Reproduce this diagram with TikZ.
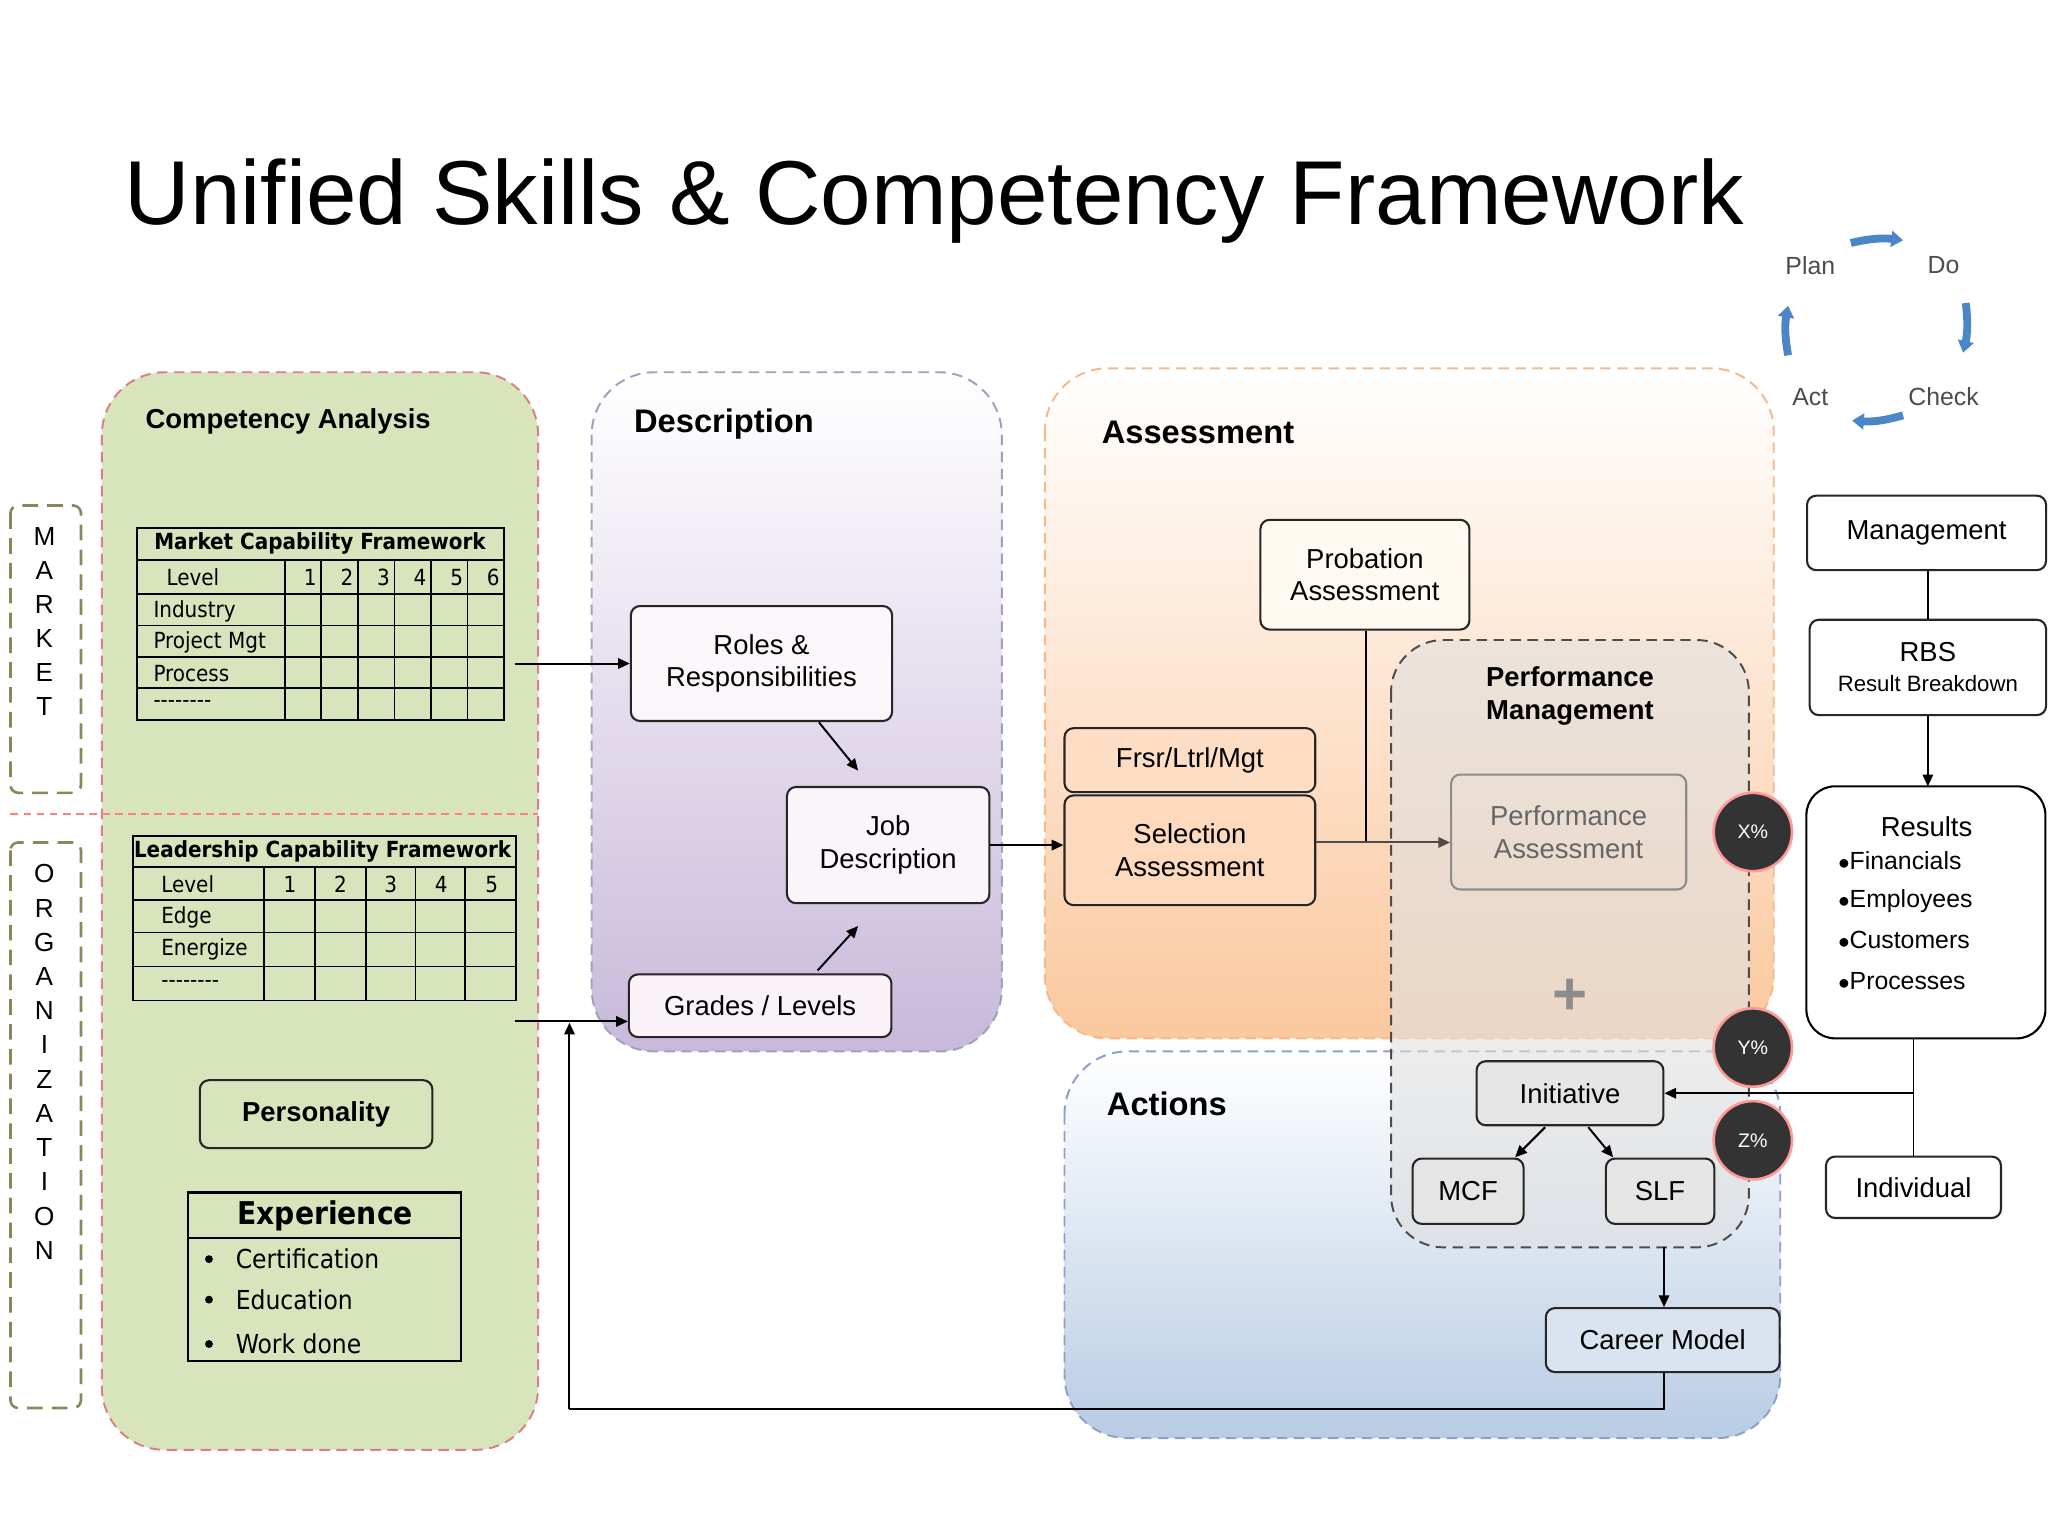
\documentclass[tikz,border=0pt]{standalone}
\usepackage{fontspec}
\setmainfont{Liberation Sans}
\newfontfamily\tabfont{DejaVu Sans Condensed}
\usetikzlibrary{arrows.meta,calc}
\begin{document}
\begin{tikzpicture}[x=1pt,y=-1pt,
  box/.style={draw=black!85,line width=1.6pt,rounded corners=7pt,align=center,font=\fontsize{21}{25}\selectfont,inner sep=2pt},
  panel/.style={line width=1.5pt,rounded corners=48pt,dash pattern=on 8pt off 5pt},
  ptitle/.style={anchor=west,font=\bfseries\fontsize{25}{29}\selectfont},
  arr/.style={-{Triangle[length=9pt,width=8pt]},line width=1.5pt},
  pct/.style={circle,fill=black!80,draw=red!40,line width=2pt,minimum size=60pt,text=white,font=\fontsize{15}{17}\selectfont},
  pdca/.style={-{Triangle[length=9pt,width=12pt]},line width=6pt,color={rgb,255:red,74;green,134;blue,200}},
  tab/.style={font=\tabfont\fontsize{17}{19}\selectfont}]
\useasboundingbox (0,0) rectangle (1568,1176);
\fill[white] (0,0) rectangle (1568,1176);
% title
\node[anchor=base west,font=\fontsize{69.5}{80}\selectfont] (title) at (92,172) {Unified Skills \& Competency Framework};
% PDCA
\node[font=\fontsize{19}{22}\selectfont,text=black!70] (plan) at (1386,203) {Plan};
\node[font=\fontsize{19}{22}\selectfont,text=black!70] (do) at (1488,203) {Do};
\node[font=\fontsize{19}{22}\selectfont,text=black!70] (act) at (1386,304) {Act};
\node[font=\fontsize{19}{22}\selectfont,text=black!70] (check) at (1488,304) {Check};
\draw[pdca] (1417,186) to[bend left=10] (1457,184);
\draw[pdca] (1505,232) to[bend left=10] (1503,270);
\draw[pdca] (1457,318) to[bend left=10] (1418,322);
\draw[pdca] (1369,272) to[bend left=10] (1369,234);
% side brackets
\draw[line width=2pt,color={rgb,255:red,140;green,135;blue,90},rounded corners=6pt,dash pattern=on 12pt off 7pt] (8,387) rectangle (62,607);
\draw[line width=2pt,color={rgb,255:red,140;green,135;blue,90},rounded corners=6pt,dash pattern=on 12pt off 7pt] (8,645) rectangle (62,1078);
\foreach \l [count=\i] in {M,A,R,K,E,T}
  \node[font=\fontsize{20}{22}\selectfont] at (34,411+26*\i-26) {\l};
\foreach \l [count=\i] in {O,R,G,A,N,I,Z,A,T,I,O,N}
  \node[font=\fontsize{20}{22}\selectfont] at (34,669+26.2*\i-26.2) {\l};
% panels
\draw[panel,draw={rgb,255:red,215;green,130;blue,130},fill={rgb,255:red,216;green,228;blue,188}] (78,285) rectangle (412,1110);
\draw[red!50,line width=1.2pt,dash pattern=on 6pt off 4pt] (8,623) -- (412,623);
\draw[panel,draw={rgb,255:red,160;green,160;blue,190},top color=white,bottom color={rgb,255:red,200;green,185;blue,218}] (453,285) rectangle (767,805);
\draw[panel,draw={rgb,255:red,245;green,185;blue,140},top color=white,bottom color={rgb,255:red,251;green,200;blue,158}] (800,282) rectangle (1358,795);
\draw[panel,draw={rgb,255:red,140;green,160;blue,200},top color=white,bottom color={rgb,255:red,184;green,204;blue,228}] (815,805) rectangle (1363,1101);
\fill[rounded corners=40pt,fill=black!12,fill opacity=0.6] (1065,490) rectangle (1339,955);
\draw[panel,rounded corners=40pt,draw=black!70] (1065,490) rectangle (1339,955);
\node[ptitle,font=\bfseries\fontsize{21}{25}\selectfont] (ca) at (108,323) {Competency Analysis};
\node[ptitle] (desc) at (482,325) {Description};
\node[ptitle] (ass) at (840,331) {Assessment};
\node[ptitle] (actions) at (844,845) {Actions};
\node[align=center,font=\bfseries\fontsize{21}{25}\selectfont] (pm) at (1202,533) {Performance\\Management};
% market table
\draw[line width=1.5pt] (105,404) rectangle (386,551);
\foreach \y in {429,455,479,503,527} \draw[line width=1.3pt] (105,\y) -- (386,\y);
\foreach \x in {218,246,274,302,330,358} \draw[line width=1.3pt] (\x,429) -- (\x,551);
\node[tab,font=\tabfont\bfseries\fontsize{17}{19}\selectfont] (mcf) at (245,416) {Market Capability Framework};
\node[tab,anchor=west] at (124,442) {Level};
\foreach \n [count=\i] in {1,...,6} \node[tab,anchor=east] at (218+28*\i,442) {\n};
\node[tab,anchor=west] at (114,468) {Industry};
\node[tab,anchor=west] at (114,492) {Project Mgt};
\node[tab,anchor=west] at (114,516) {Process};
\node[tab,anchor=west] at (114,539) {--------};
\coordinate (mkt) at (394,508);
% leadership table
\draw[line width=1.5pt] (102,640) rectangle (395,766);
\foreach \y in {664,689,714,740} \draw[line width=1.3pt] (102,\y) -- (395,\y);
\foreach \x in {202,241,280,318,356} \draw[line width=1.3pt] (\x,664) -- (\x,766);
\node[tab,font=\tabfont\bfseries\fontsize{17}{19}\selectfont] (lcf) at (247,652) {Leadership Capability Framework};
\node[tab,anchor=west] at (120,677) {Level};
\foreach \n [count=\i] in {1,...,5} \node[tab] at (222+38.6*\i-38.6,677) {\n};
\node[tab,anchor=west] at (120,702) {Edge};
\node[tab,anchor=west] at (120,727) {Energize};
\node[tab,anchor=west] at (120,753) {--------};
\coordinate (lead) at (394,782);
% personality, experience
\node[box,font=\bfseries\fontsize{21}{25}\selectfont,minimum width=178pt,minimum height=52pt] (pers) at (242,853) {Personality};
\draw[line width=1.6pt] (144,913) rectangle (353,1042);
\draw[line width=1.6pt] (144,948) -- (353,948);
\node[tab,font=\tabfont\bfseries\fontsize{24}{26}\selectfont] (exp) at (249,931) {Experience};
\foreach \t/\y in {Certification/964,Education/995,Work done/1029} {
  \fill (160,\y) circle (3pt);
  \node[tab,anchor=west,font=\tabfont\fontsize{20}{22}\selectfont] at (177,\y) {\t};}
% description boxes
\node[box,fill=white!60!violet!8,minimum width=200pt,minimum height=88pt] (roles) at (583,508) {Roles \&\\Responsibilities};
\node[box,fill=white!60!violet!10,minimum width=155pt,minimum height=89pt] (job) at (680,647) {Job\\Description};
\node[box,fill=white!60!violet!12,minimum width=201pt,minimum height=48pt] (grades) at (582,770) {Grades / Levels};
\draw[arr] (627,553) -- (657,590);
\draw[arr] (626,743) -- (657,709);
\draw[arr] (mkt) -- (roles.west);
\draw[arr] (lead) -- (grades.west|-lead);
% assessment
\node[box,fill=white!95!orange,minimum width=160pt,minimum height=84pt] (prob) at (1045,440) {Probation\\Assessment};
\node[box,fill={rgb,255:red,253;green,222;blue,196},minimum width=192pt,minimum height=49pt] (frsr) at (911,582) {Frsr/Ltrl/Mgt};
\node[box,fill={rgb,255:red,253;green,218;blue,190},minimum width=192pt,minimum height=84pt] (sel) at (911,651) {Selection\\Assessment};
\draw[arr] (job.east) -- (sel.west|-job.east);
\node[box,draw=black!45,text=black!60,minimum width=180pt,minimum height=88pt] (pa) at (1201,637) {Performance\\Assessment};
\coordinate (junc) at (1046,645);
\draw[line width=1.5pt] (prob.south-|junc) -- (junc);
\draw[arr,black!70] (sel.east|-junc) -- (pa.west|-junc);
\node[text=black!45,font=\bfseries\fontsize{46}{46}\selectfont] (plus) at (1202,763) {+};
\node[box,fill=white!90!black,minimum width=143pt,minimum height=49pt] (init) at (1202,837) {Initiative};
\node[box,fill=white!90!black,minimum width=85pt,minimum height=50pt] (mcf2) at (1124,912) {MCF};
\node[box,fill=white!90!black,minimum width=83pt,minimum height=50pt] (slf) at (1271,912) {SLF};
\draw[arr] (1183,863) -- (1160,886);
\draw[arr] (1216,863) -- (1235,886);
\node[pct] (x) at (1342,637) {X\%};
\node[pct] (y) at (1342,802) {Y\%};
\node[pct] (z) at (1342,873) {Z\%};
\node[box,fill={rgb,255:red,218;green,228;blue,240},minimum width=179pt,minimum height=49pt] (career) at (1273,1026) {Career Model};
\coordinate (pmb) at (1274,955);
\draw[arr] (pmb) -- (career.north-|pmb);
\coordinate (fb1) at (1274,1079);
\coordinate (fb2) at (436,1079);
\draw[line width=1.5pt] (career.south-|pmb) -- (fb1) -- (fb2);
\draw[arr] (fb2) -- (436,783);
% right column
\node[box,fill=white,minimum width=183pt,minimum height=57pt] (mgmt) at (1475,408) {Management};
\node[box,fill=white,minimum width=181pt,minimum height=73pt] (rbs) at (1476,511) {RBS\\[-2pt]{\fontsize{17}{19}\selectfont Result Breakdown}};
\draw[line width=1.5pt] (mgmt.south-|rbs) -- (rbs.north);
\draw[line width=1.6pt,rounded corners=22pt,fill=white] (1383,602) rectangle (1566,795);
\node[font=\fontsize{21}{25}\selectfont] (res) at (1475,633) {Results};
\coordinate (resn) at (1476,602);
\coordinate (ress) at (1465,795);
\draw[arr] (rbs.south) -- (resn);
\foreach \t/\y in {Financials/659,Employees/690,Customers/720,Processes/751}
  \node[anchor=west,font=\fontsize{19}{22}\selectfont] at (1404,\y) {$\bullet$\t};
\node[box,fill=white,minimum width=134pt,minimum height=47pt] (indiv) at (1465,909) {Individual};
\draw[line width=1.5pt] (ress) -- (indiv.north);
\draw[arr] (1465,837) -- (init.east);
\end{tikzpicture}
\end{document}
